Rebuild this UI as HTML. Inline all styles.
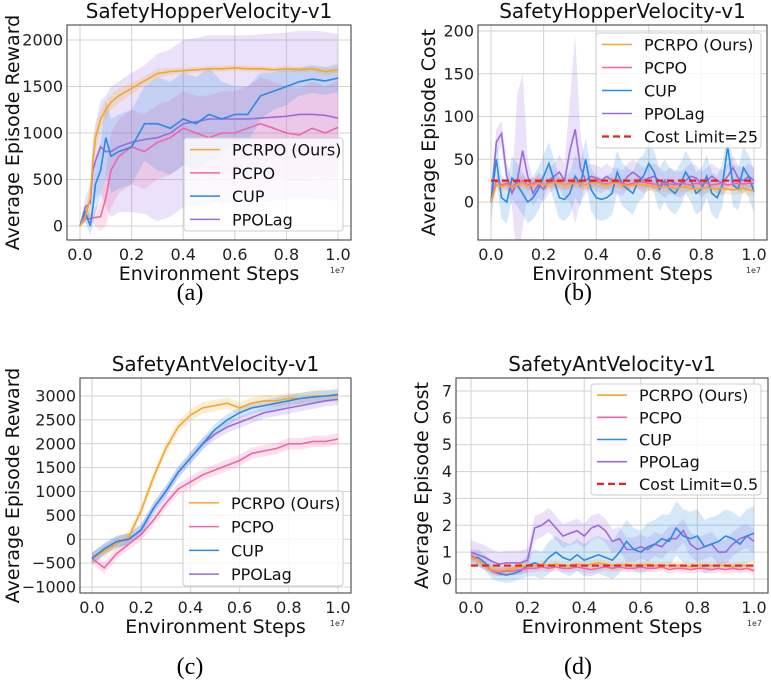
<!DOCTYPE html>
<html><head><meta charset="utf-8"><style>
body{margin:0;background:#fff;}
svg{display:block;font-family:"DejaVu Sans","Liberation Sans",sans-serif;}
</style></head><body>
<svg id="fig" width="771" height="686" viewBox="0 0 771 686"></svg>
<script>
// ---- data ----
const xsA=[0,0.02,0.04,0.05,0.06,0.08,0.1,0.12,0.15,0.2,0.25,0.3,0.35,0.4,0.45,0.5,0.55,0.6,0.65,0.7,0.75,0.8,0.85,0.9,0.95,1.0];
const aPCRPO=[0,100,300,700,950,1150,1250,1330,1400,1480,1560,1640,1660,1670,1680,1690,1690,1700,1690,1690,1680,1690,1680,1690,1660,1680];
const aPCPO=[0,80,80,90,90,100,300,600,750,850,800,900,950,1050,1000,950,1000,1000,1050,1100,1050,1000,980,1050,1000,1060];
const aCUP=[0,150,0,200,450,600,950,750,800,850,1100,1100,1050,1150,1100,1200,1150,1200,1200,1400,1450,1500,1550,1580,1560,1590];
const aPPOLag=[0,200,250,600,700,850,800,800,850,900,930,950,1000,1100,1120,1150,1150,1150,1150,1160,1170,1180,1200,1200,1190,1160];
const aPCRPOw=[0,50,150,200,150,100,100,80,80,60,50,50,40,30,30,30,30,30,30,30,30,30,30,30,40,30];
const aPCPOw=[0,50,50,50,100,150,300,400,400,400,400,400,400,400,400,450,450,450,450,500,500,500,500,500,500,500];
const aCUPw=[0,100,100,200,300,300,400,400,400,400,400,500,500,500,500,500,400,300,300,250,200,200,150,150,150,150];
const aPPOLagw=[0,100,200,300,400,500,600,700,700,750,800,900,900,900,900,900,900,900,900,900,900,900,900,900,900,900];

const xsB=Array.from({length:51},(_,i)=>i*0.02);
const bCUP=[0,50,5,0,28,20,10,0,5,15,30,45,25,5,3,10,30,20,50,15,5,3,5,10,35,20,15,10,25,30,45,35,15,25,15,10,20,35,25,10,15,30,10,5,20,65,20,15,40,30,12];
const bPPOLag=[0,70,80,30,10,25,60,30,10,20,15,25,30,35,25,60,85,40,25,30,28,25,30,25,25,22,30,35,30,25,28,30,25,20,25,22,20,25,30,28,20,25,30,25,22,30,40,28,25,30,25];
const bPCPO=[0,25,20,22,18,22,25,20,22,24,20,22,25,23,20,22,24,22,20,23,25,22,21,23,24,22,20,22,24,23,22,21,20,22,21,20,22,21,20,22,21,22,20,21,22,20,21,22,21,22,22];
const bPCRPO=[0,20,18,20,17,20,22,19,20,22,20,21,23,22,20,21,22,21,20,22,23,21,20,22,22,20,19,20,21,20,19,18,17,18,17,16,17,18,16,15,16,17,16,15,16,15,14,15,16,14,13];
const bPPOLagw=[0,15,15,15,15,100,90,20,15,15,15,15,15,20,20,60,110,40,15,15,15,15,15,15,15,15,15,15,15,15,15,15,15,15,15,15,15,15,15,15,15,15,15,15,15,15,15,15,15,15,15];
const bCUPw=Array(51).fill(25);
const bSmallW=Array(51).fill(6);

const xsC=Array.from({length:21},(_,i)=>i*0.05);
const cPCRPO=[-400,-250,-100,50,600,1300,1900,2350,2600,2750,2800,2850,2750,2850,2900,2900,2950,2950,3000,3000,3000];
const cPCPO=[-400,-600,-300,-100,100,400,750,1050,1200,1350,1450,1550,1650,1800,1850,1900,2000,2000,2050,2050,2100];
const cCUP=[-400,-200,-50,0,200,650,1000,1400,1700,2000,2300,2500,2650,2750,2800,2850,2900,2950,2980,3000,3030];
const cPPOLag=[-400,-200,-50,0,200,650,1000,1400,1700,2000,2200,2350,2450,2550,2650,2700,2750,2800,2850,2900,2930];
const cW=Array(21).fill(120);

const xsD=Array.from({length:41},(_,i)=>i*0.025);
const dPPOLag=[1.0,0.9,0.8,0.65,0.55,0.6,0.6,0.6,0.7,1.9,2.0,2.2,1.9,1.6,1.7,1.8,1.6,1.9,2.0,1.8,1.4,1.5,1.1,1.1,1.2,1.1,1.3,1.2,1.5,1.5,1.8,1.3,1.1,1.2,1.3,1.0,1.0,1.3,1.5,1.6,1.4];
const dCUP=[0.8,0.8,0.6,0.3,0.2,0.15,0.2,0.3,0.5,0.6,0.5,0.8,1.0,0.8,0.7,0.9,0.7,0.8,0.9,0.8,0.7,1.0,1.4,1.1,1.0,1.2,1.3,1.5,1.4,1.9,1.6,1.5,1.6,1.2,1.3,1.4,1.6,1.5,1.3,1.6,1.7];
const dPCPO=[0.9,0.7,0.5,0.3,0.25,0.3,0.3,0.35,0.4,0.4,0.45,0.4,0.45,0.4,0.4,0.45,0.4,0.35,0.4,0.45,0.4,0.45,0.4,0.4,0.45,0.4,0.4,0.45,0.35,0.4,0.4,0.35,0.4,0.4,0.35,0.4,0.35,0.4,0.35,0.4,0.3];
const dPCRPO=[0.8,0.7,0.5,0.35,0.3,0.35,0.4,0.45,0.5,0.5,0.55,0.5,0.55,0.5,0.5,0.55,0.5,0.55,0.6,0.55,0.5,0.5,0.55,0.5,0.5,0.55,0.5,0.5,0.5,0.5,0.5,0.45,0.5,0.5,0.5,0.5,0.5,0.45,0.5,0.5,0.5];
const dPPOLagw=Array(41).fill(0.45);
const dCUPw=[0.3,0.3,0.3,0.3,0.3,0.3,0.3,0.3,0.4,0.5,0.5,0.6,0.6,0.6,0.6,0.6,0.6,0.7,0.7,0.7,0.7,0.8,0.8,0.8,0.8,0.9,0.9,0.9,1.0,1.0,1.0,1.0,1.0,1.0,1.0,1.0,1.0,1.0,1.0,1.0,1.0];
const dSmallW=Array(41).fill(0.15);

const xTicks=[0,0.2,0.4,0.6,0.8,1.0];
const xTickLabels=["0.0","0.2","0.4","0.6","0.8","1.0"];

const COL={PCRPO:"#f2a72b",PCPO:"#f064a8",CUP:"#2a8ae4",PPOLag:"#9a6bdc",limit:"#e8231f"};
const NS="http://www.w3.org/2000/svg";
const svg=document.getElementById('fig');
function mk(tag,attrs,parent){const e=document.createElementNS(NS,tag);for(const k in attrs)e.setAttribute(k,attrs[k]);(parent||svg).appendChild(e);return e;}

function panel(p){
  const g=mk('g',{});
  
  
  const sx=v=>p.px0+(p.px1-p.px0)*v;
  const sy=v=>p.py0+(p.py1-p.py0)*(v-p.v0)/(p.v1-p.v0);
  const [bx0,by0,bx1,by1]=p.box;
  const cid='clip'+p.name;
  const cp=mk('clipPath',{id:cid},g);mk('rect',{x:bx0,y:by0,width:bx1-bx0,height:by1-by0},cp);
  xTicks.forEach((t,i)=>{
    const l=mk('line',{x1:sx(t),x2:sx(t),y1:by0,y2:by1,stroke:'#d3d3d3','stroke-width':1},g);
    
    const tx=mk('text',{x:sx(t),y:by1+20,'text-anchor':'middle','font-size':16,fill:'#222'},g);
    tx.textContent=xTickLabels[i];
    
  });
  p.yTicks.forEach(t=>{
    const l=mk('line',{x1:bx0,x2:bx1,y1:sy(t),y2:sy(t),stroke:'#d3d3d3','stroke-width':1},g);
    
    const tx=mk('text',{x:bx0-4,y:sy(t)+5.5,'text-anchor':'end','font-size':p.ytfs||16,fill:'#222'},g);
    tx.textContent=(t<0?'\u2212'+(-t):String(t));
    
  });
  const plot=mk('g',{'clip-path':`url(#${cid})`},g);
  p.series.forEach(s=>{
    if(s.w){
      let d='';
      s.ys.forEach((y,i)=>{d+=(i?'L':'M')+sx(s.xs[i]).toFixed(1)+','+sy(y+s.w[i]).toFixed(1);});
      for(let i=s.ys.length-1;i>=0;i--)d+='L'+sx(s.xs[i]).toFixed(1)+','+sy(s.ys[i]-s.w[i]).toFixed(1);
      const b=mk('path',{d:d+'Z',fill:COL[s.k],'fill-opacity':0.2,stroke:'none'},plot);
      
    }
  });
  p.series.forEach(s=>{
    const pts=s.ys.map((y,i)=>sx(s.xs[i]).toFixed(1)+','+sy(y).toFixed(1)).join(' ');
    const l=mk('polyline',{points:pts,fill:'none',stroke:COL[s.k],'stroke-width':1.6},plot);
    
  });
  if(p.limit!==undefined){
    const l=mk('line',{x1:sx(0),x2:sx(1),y1:sy(p.limit),y2:sy(p.limit),stroke:COL.limit,'stroke-width':2.2,'stroke-dasharray':'7,4'},plot);
    
  }
  const fr=mk('rect',{x:bx0,y:by0,width:bx1-bx0,height:by1-by0,fill:'none',stroke:'#333','stroke-width':1},g);
  
  const t=mk('text',{x:(bx0+bx1)/2,y:by0-7,'text-anchor':'middle','font-size':p.tfs||20,fill:'#111'},g);
  t.textContent=p.title;
  const xl=mk('text',{x:(bx0+bx1)/2,y:by1+40,'text-anchor':'middle','font-size':19,fill:'#111'},g);
  xl.textContent='Environment Steps';
  const ex=mk('text',{x:bx1-6,y:by1+33,'text-anchor':'end','font-size':8,fill:'#333'},g);
  ex.textContent='1e7';
  const yc=(by0+by1)/2;
  const yl=mk('text',{x:p.ylx,y:yc,'text-anchor':'middle','font-size':19,fill:'#111',transform:`rotate(-90 ${p.ylx} ${yc})`},g);
  yl.textContent=p.ylabel;
  const [lx0,ly0,lx1,ly1]=p.leg;
  const lg=mk('g',{},g);
  mk('rect',{x:lx0,y:ly0,width:lx1-lx0,height:ly1-ly0,rx:3,fill:'#fff','fill-opacity':0.8,stroke:'#ccc'},lg);
  const ents=[['PCRPO','PCRPO (Ours)'],['PCPO','PCPO'],['CUP','CUP'],['PPOLag','PPOLag']];
  if(p.limitLabel)ents.push(['limit',p.limitLabel]);
  const step=(ly1-ly0)/ents.length;
  ents.forEach((e,i)=>{
    const yy=ly0+step*(i+0.5);
    const eg=mk('g',{},lg);
    const attrs={x1:lx0+6,x2:lx0+36,y1:yy,y2:yy,stroke:COL[e[0]],'stroke-width':e[0]==='limit'?2.2:1.6};
    if(e[0]==='limit')attrs['stroke-dasharray']='7,4';
    mk('line',attrs,eg);
    const tt=mk('text',{x:lx0+48,y:yy+6,'font-size':16,fill:'#111'},eg);tt.textContent=e[1];
  });
  const cap=mk('text',{x:p.cap[0],y:p.cap[1],'text-anchor':'middle','font-size':24,'font-family':'"Liberation Serif",serif',fill:'#000'},svg);
  cap.textContent=p.capText;
}

panel({name:'panel-a',title:'SafetyHopperVelocity-v1',ylabel:'Average Episode Reward',ylx:19,
  box:[67,25,351,240],px0:80,px1:338,py0:226,py1:40,v0:0,v1:2000,yTicks:[0,500,1000,1500,2000],
  leg:[184,138,343,231],cap:[190,300],capText:'(a)',
  series:[{k:'PPOLag',xs:xsA,ys:aPPOLag,w:aPPOLagw},{k:'PCPO',xs:xsA,ys:aPCPO,w:aPCPOw},{k:'CUP',xs:xsA,ys:aCUP,w:aCUPw},{k:'PCRPO',xs:xsA,ys:aPCRPO,w:aPCRPOw}]});
panel({name:'panel-b',title:'SafetyHopperVelocity-v1',ylabel:'Average Episode Cost',ylx:435,
  box:[478,25,767,240],px0:491,px1:754,py0:202,py1:31,v0:0,v1:200,yTicks:[0,50,100,150,200],
  leg:[596,33,761,148],cap:[578,300],capText:'(b)',limit:25,limitLabel:'Cost Limit=25',
  series:[{k:'PPOLag',xs:xsB,ys:bPPOLag,w:bPPOLagw},{k:'CUP',xs:xsB,ys:bCUP,w:bCUPw},{k:'PCPO',xs:xsB,ys:bPCPO,w:bSmallW},{k:'PCRPO',xs:xsB,ys:bPCRPO,w:bSmallW}]});
panel({name:'panel-c',title:'SafetyAntVelocity-v1',ylabel:'Average Episode Reward',ylx:19,
  box:[80,378,351,593],px0:92,px1:338,py0:587,py1:396,v0:-1000,v1:3000,yTicks:[-1000,-500,0,500,1000,1500,2000,2500,3000],
  leg:[183,491,343,586],cap:[190,674],capText:'(c)',
  series:[{k:'PCRPO',xs:xsC,ys:cPCRPO,w:cW},{k:'PCPO',xs:xsC,ys:cPCPO,w:cW},{k:'PPOLag',xs:xsC,ys:cPPOLag,w:cW},{k:'CUP',xs:xsC,ys:cCUP,w:cW}]});
panel({name:'panel-d',title:'SafetyAntVelocity-v1',ylabel:'Average Episode Cost',ylx:428,
  box:[456,378,768,593],px0:471,px1:754,py0:579,py1:391,v0:0,v1:7,yTicks:[0,1,2,3,4,5,6,7],
  leg:[591,384,761,495],cap:[578,674],capText:'(d)',limit:0.5,limitLabel:'Cost Limit=0.5',
  series:[{k:'PPOLag',xs:xsD,ys:dPPOLag,w:dPPOLagw},{k:'CUP',xs:xsD,ys:dCUP,w:dCUPw},{k:'PCPO',xs:xsD,ys:dPCPO,w:dSmallW},{k:'PCRPO',xs:xsD,ys:dPCRPO,w:dSmallW}]});
</script>
</body></html>
